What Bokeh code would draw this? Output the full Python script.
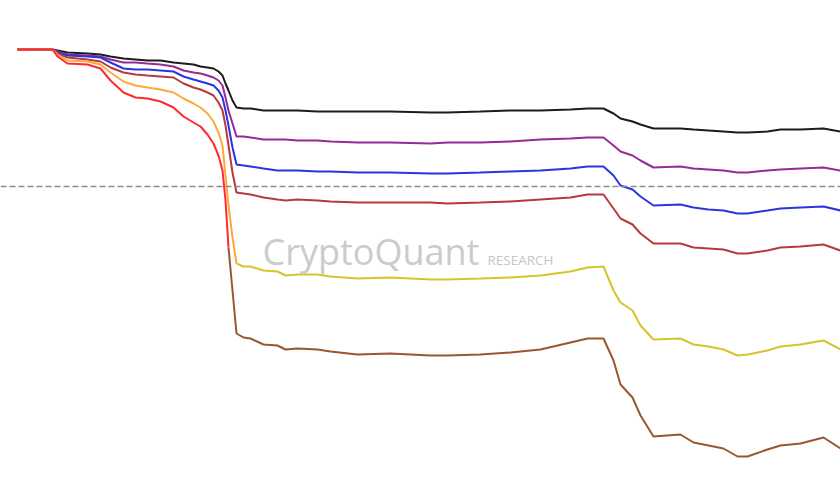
from bokeh.plotting import figure
from bokeh.models import Range1d, Span, Label
from bokeh.embed import file_html
from bokeh.resources import INLINE

# Time index (days) and cohort series (depth values, larger = lower on chart)
days = [17, 52, 57, 67, 87, 100, 110, 123, 135, 147, 160, 173, 183, 193, 200,
        207, 213, 218, 222, 225, 228, 232, 236, 243, 250, 263, 277, 285, 297, 317,
        330, 357, 390, 430, 447, 480, 510, 540, 570, 587, 603, 613, 620, 632, 640,
        653, 680, 693, 708, 723, 737, 747, 767, 780, 800, 823, 840]

black_s = [49, 49, 50, 52, 53, 54, 56, 58, 59, 60, 60, 62, 63, 64, 66,
           67, 68, 71, 75, 83, 90, 100, 107, 108, 108, 110, 110, 110, 110, 111,
           111, 111, 111, 112, 112, 111, 110, 110, 109, 108, 108, 113, 118, 121, 124,
           128, 128, 129, 130, 131, 132, 132, 131, 129, 129, 128, 131]

purple_s = [49, 49, 51, 54, 55, 56, 59, 62, 62, 63, 64, 66, 70, 72, 73,
            75, 77, 80, 85, 97, 110, 123, 136, 136, 137, 139, 139, 139, 140, 140,
            141, 142, 142, 143, 142, 142, 141, 139, 138, 137, 137, 145, 151, 155, 160,
            167, 166, 168, 169, 170, 172, 172, 170, 169, 168, 167, 170]

blue_s = [49, 49, 52, 55, 56, 57, 62, 68, 69, 69, 70, 71, 76, 79, 81,
          83, 85, 90, 97, 110, 125, 147, 164, 165, 166, 168, 170, 170, 170, 171,
          171, 172, 172, 173, 173, 172, 171, 170, 168, 166, 166, 175, 185, 189, 196,
          205, 204, 207, 209, 210, 213, 213, 210, 208, 207, 206, 210]

brick_s = [49, 49, 53, 57, 59, 61, 67, 72, 74, 75, 76, 77, 83, 87, 89,
           92, 95, 102, 110, 125, 145, 172, 192, 193, 194, 197, 199, 200, 199, 200,
           201, 202, 202, 202, 203, 202, 201, 199, 197, 194, 194, 208, 218, 224, 233,
           243, 243, 247, 248, 249, 253, 253, 250, 247, 246, 244, 250]

orange_yellow_s = [49, 49, 54, 60, 61, 64, 72, 81, 85, 87, 89, 92, 98, 103, 107,
                   113, 121, 132, 145, 175, 205, 237, 263, 266, 266, 270, 271, 275, 274, 274,
                   276, 278, 277, 279, 279, 278, 277, 275, 271, 267, 266, 290, 302, 310, 325,
                   339, 338, 344, 346, 349, 355, 354, 350, 346, 344, 340, 349]

red_brown_s = [49, 49, 56, 63, 64, 68, 80, 92, 97, 98, 101, 107, 116, 122, 126,
               134, 143, 155, 170, 200, 247, 290, 333, 337, 338, 344, 345, 349, 348, 349,
               351, 354, 353, 355, 355, 354, 352, 349, 342, 338, 338, 360, 384, 397, 415,
               436, 434, 442, 445, 448, 456, 456, 449, 445, 443, 437, 448]

threshold = 186

p = figure(width=840, height=489, output_backend="svg", toolbar_location=None,
           x_range=Range1d(0, 840), y_range=Range1d(489, 0),
           min_border=0, min_border_left=0, min_border_right=0,
           min_border_top=0, min_border_bottom=0)
p.axis.visible = False
p.xgrid.visible = False
p.ygrid.visible = False
p.outline_line_color = None
p.background_fill_color = "white"
p.border_fill_color = "white"

p.add_layout(Label(x=262, y=238, x_units="screen", y_units="screen",
                   text="CryptoQuant", text_font="Open Sans", text_font_size="36px",
                   text_color="#cbcbcb", text_baseline="middle"))
p.add_layout(Label(x=487, y=230, x_units="screen", y_units="screen",
                   text="RESEARCH", text_font="Open Sans", text_font_size="13.5px",
                   text_color="#c6c6c6", text_baseline="middle"))

p.add_layout(Span(location=threshold, dimension="width", line_color="#8c8c8c",
                  line_width=1.6, line_dash="6 3"))

lw = 2
p.line(days, black_s, line_color="#1c1c1c", line_width=lw)
p.line(days, purple_s, line_color="#962a96", line_width=lw)
p.line(days, blue_s, line_color="#2a35e0", line_width=lw)
p.line(days, brick_s, line_color="#b53a3e", line_width=lw)
k = 22
p.line(days[k:], orange_yellow_s[k:], line_color="#d6c42c", line_width=lw)
p.line(days[:k + 1], orange_yellow_s[:k + 1], line_color="#ffa83a", line_width=lw)
r = 20
p.line(days[r:], red_brown_s[r:], line_color="#9a5630", line_width=lw)
p.line(days[:r + 1], red_brown_s[:r + 1], line_color="#ff2a2e", line_width=lw)

open("out.html", "w").write(file_html(p, INLINE))
